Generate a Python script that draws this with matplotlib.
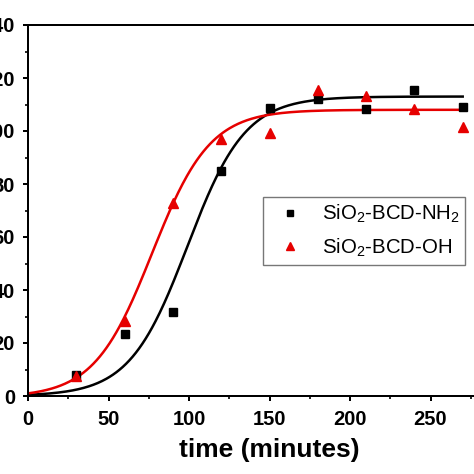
import numpy as np
import matplotlib
matplotlib.use('Agg')
import matplotlib.pyplot as plt
from matplotlib.ticker import MultipleLocator

# measured points
time = [30, 60, 90, 120, 150, 180, 210, 240, 270]
nh2 = [7.8, 23.4, 31.8, 85.0, 108.6, 112.2, 108.2, 115.4, 109.2]
oh = [7.6, 28.3, 72.8, 96.8, 99.3, 115.4, 113.2, 108.2, 101.6]

# Boltzmann fit parameters (bottom, top, centre, width)
fit_nh2 = (0.0, 113.0, 99.0, 18.0)
fit_oh = (-0.5, 108.0, 77.0, 18.0)
fit_end = 270

labels = [r'SiO$_2$-BCD-NH$_2$', r'SiO$_2$-BCD-OH']


def boltzmann(x, a1, a2, x0, dx):
    return a2 + (a1 - a2) / (1 + np.exp((x - x0) / dx))


def main():
    plt.rcParams['font.family'] = ['Liberation Sans', 'DejaVu Sans']
    plt.rcParams['mathtext.fontset'] = 'custom'
    plt.rcParams['mathtext.rm'] = 'Liberation Sans'
    plt.rcParams['mathtext.it'] = 'Liberation Sans'

    fig = plt.figure(figsize=(4.74, 4.74), dpi=100)
    ax = fig.add_axes([28 / 474, 78 / 474, 483 / 474, 371 / 474])

    xs = np.linspace(0, fit_end, 400)
    ax.plot(xs, boltzmann(xs, *fit_nh2), c='black', lw=1.8, zorder=2)
    ax.plot(xs, boltzmann(xs, *fit_oh), c='#e60000', lw=1.8, zorder=2)

    ax.plot(time, nh2, ls='none', marker='s', ms=6, c='black', label=labels[0], zorder=3)
    ax.plot(time, oh, ls='none', marker='^', ms=7, c='#e60000', label=labels[1], zorder=3)

    ax.set_xlim(0, 300)
    ax.set_ylim(0, 140)
    ax.xaxis.set_major_locator(MultipleLocator(50))
    ax.xaxis.set_minor_locator(MultipleLocator(25))
    ax.yaxis.set_major_locator(MultipleLocator(20))
    ax.yaxis.set_minor_locator(MultipleLocator(10))

    for s in ax.spines.values():
        s.set_linewidth(1.44)
    ax.tick_params(which='major', direction='out', length=3.8, width=1.44,
                   labelsize=14.5, pad=5.5)
    ax.tick_params(axis='x', which='major', pad=6.5)
    ax.tick_params(which='minor', direction='out', length=2.2, width=1.2)
    ax.tick_params(top=False, right=False, which='both')
    for lab in ax.get_xticklabels() + ax.get_yticklabels():
        lab.set_fontweight('bold')

    ax.set_xlabel('time (minutes)', fontsize=19, fontweight='bold', labelpad=6)

    leg = ax.legend(loc='upper left', bbox_to_anchor=(0.486, 0.5356),
                    borderaxespad=0, fontsize=14.7, fancybox=False,
                    edgecolor='#555555', handlelength=2.15, handletextpad=0.45,
                    borderpad=0.28, labelspacing=0.55, markerscale=0.75)
    leg.get_frame().set_linewidth(1.0)

    fig.savefig('out.png', dpi=100)


if __name__ == '__main__':
    main()
